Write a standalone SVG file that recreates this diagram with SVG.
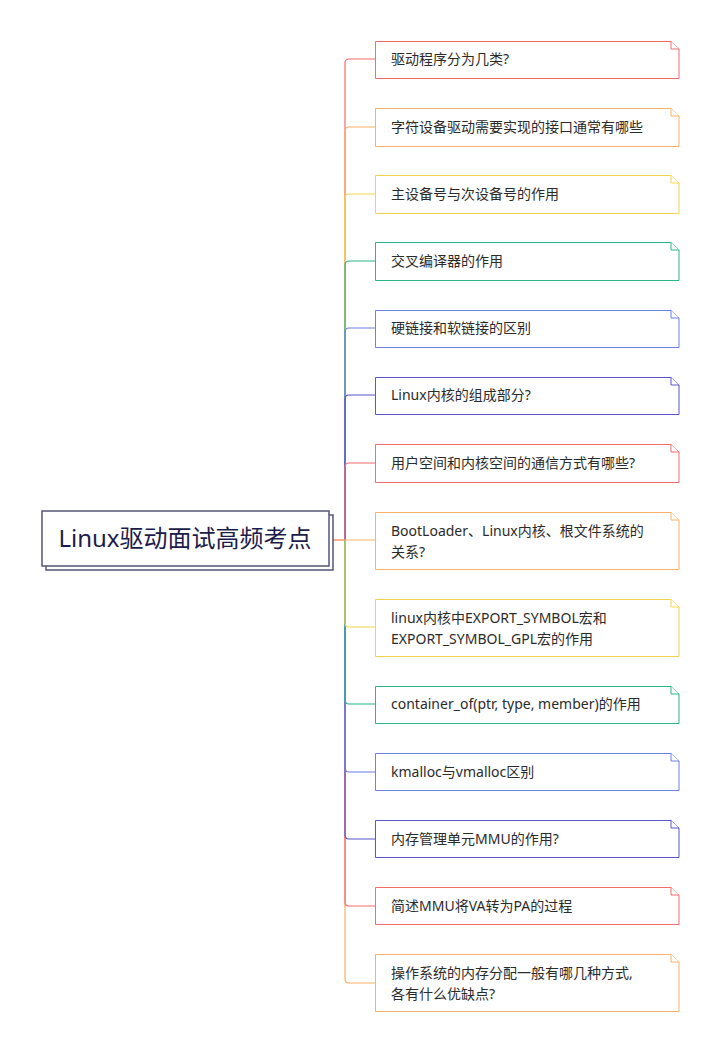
<svg xmlns="http://www.w3.org/2000/svg" width="720" height="1053" viewBox="0 0 720 1053">
<style>
.t{font-family:"Noto Sans","Noto Sans CJK SC",sans-serif;font-size:14px;fill:#2b2b2b}
.n{fill:#fff;stroke-width:1}
.c path{fill:none;stroke-width:1.2}
.r{stroke:#f36b6b}.o{stroke:#f9b06b}.y{stroke:#f2d54c}.g{stroke:#2bb38a}.b{stroke:#6b7fe6}.i{stroke:#5a54cf}
</style>
<rect width="720" height="1053" fill="#fff"/>
<g class="c">
<path class="r" d="M333 540H345V63Q345 59 349 59H375"/>
<path class="o" d="M345 540V131Q345 127 349 127H375"/>
<path class="y" d="M345 540V198Q345 194 349 194H375"/>
<path class="g" d="M345 540V265Q345 261 349 261H375"/>
<path class="b" d="M345 540V332Q345 328 349 328H375"/>
<path class="i" d="M345 540V399Q345 395 349 395H375"/>
<path class="r" d="M345 540V467Q345 463 349 463H375"/>
<path class="o" d="M333 540H375"/>
<path class="o" d="M345 540V979Q345 983 349 983H375"/>
<path class="r" d="M345 540V902Q345 906 349 906H375"/>
<path class="i" d="M345 540V835Q345 839 349 839H375"/>
<path class="b" d="M345 540V768Q345 772 349 772H375"/>
<path class="g" d="M345 540V700Q345 704 349 704H375"/>
<path class="y" d="M345 540V623Q345 627 349 627H375"/>
</g>
<g id="root">
<rect x="46" y="515" width="287" height="55" fill="#fff" stroke="#555577" stroke-width="1.5"/>
<rect x="42" y="511" width="287" height="55" fill="#fff" stroke="#555577" stroke-width="1.5"/>
<text x="185" y="547" text-anchor="middle" font-family="'Noto Sans','Noto Sans CJK SC',sans-serif" font-size="24" fill="#1c1c4a">Linux驱动面试高频考点</text>
</g>
<g id="n1"><path class="n r" d="M375.5 41.5H671L679 49V78.5H375.5Z"/><path class="n r" d="M671 41.5V49H679"/><text class="t" x="391" y="64">驱动程序分为几类?</text></g>
<g id="n2"><path class="n o" d="M375.5 108.5H671L679 116V146.5H375.5Z"/><path class="n o" d="M671 108.5V116H679"/><text class="t" x="391" y="132">字符设备驱动需要实现的接口通常有哪些</text></g>
<g id="n3"><path class="n y" d="M375.5 175.5H671L679 183V213.5H375.5Z"/><path class="n y" d="M671 175.5V183H679"/><text class="t" x="391" y="199">主设备号与次设备号的作用</text></g>
<g id="n4"><path class="n g" d="M375.5 242.5H671L679 250V280.5H375.5Z"/><path class="n g" d="M671 242.5V250H679"/><text class="t" x="391" y="266">交叉编译器的作用</text></g>
<g id="n5"><path class="n b" d="M375.5 310.5H671L679 318V347.5H375.5Z"/><path class="n b" d="M671 310.5V318H679"/><text class="t" x="391" y="333">硬链接和软链接的区别</text></g>
<g id="n6"><path class="n i" d="M375.5 377.5H671L679 385V414.5H375.5Z"/><path class="n i" d="M671 377.5V385H679"/><text class="t" x="391" y="400">Linux内核的组成部分?</text></g>
<g id="n7"><path class="n r" d="M375.5 444.5H671L679 452V482.5H375.5Z"/><path class="n r" d="M671 444.5V452H679"/><text class="t" x="391" y="468">用户空间和内核空间的通信方式有哪些?</text></g>
<g id="n8"><path class="n o" d="M375.5 512.5H671L679 520V569.5H375.5Z"/><path class="n o" d="M671 512.5V520H679"/><text class="t" x="391" y="536">BootLoader、Linux内核、根文件系统的</text><text class="t" x="391" y="557">关系?</text></g>
<g id="n9"><path class="n y" d="M375.5 599.5H671L679 607V656.5H375.5Z"/><path class="n y" d="M671 599.5V607H679"/><text class="t" x="391" y="623">linux内核中EXPORT_SYMBOL宏和</text><text class="t" x="391" y="644">EXPORT_SYMBOL_GPL宏的作用</text></g>
<g id="n10"><path class="n g" d="M375.5 686.5H671L679 694V723.5H375.5Z"/><path class="n g" d="M671 686.5V694H679"/><text class="t" x="391" y="709">container_of(ptr, type, member)的作用</text></g>
<g id="n11"><path class="n b" d="M375.5 753.5H671L679 761V790.5H375.5Z"/><path class="n b" d="M671 753.5V761H679"/><text class="t" x="391" y="777">kmalloc与vmalloc区别</text></g>
<g id="n12"><path class="n i" d="M375.5 820.5H671L679 828V857.5H375.5Z"/><path class="n i" d="M671 820.5V828H679"/><text class="t" x="391" y="844">内存管理单元MMU的作用?</text></g>
<g id="n13"><path class="n r" d="M375.5 887.5H671L679 895V924.5H375.5Z"/><path class="n r" d="M671 887.5V895H679"/><text class="t" x="391" y="911">简述MMU将VA转为PA的过程</text></g>
<g id="n14"><path class="n o" d="M375.5 954.5H671L679 962V1011.5H375.5Z"/><path class="n o" d="M671 954.5V962H679"/><text class="t" x="391" y="978">操作系统的内存分配一般有哪几种方式,</text><text class="t" x="391" y="999">各有什么优缺点?</text></g>
</svg>
